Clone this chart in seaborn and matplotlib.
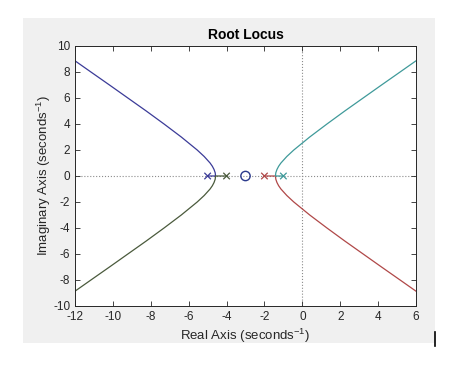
import pandas as pd
import seaborn as sns
import matplotlib.pyplot as plt
from matplotlib.patches import Rectangle
from matplotlib.lines import Line2D

# poles / zero
poles = [-5, -4, -2, -1]
zeros = [-3]

# branch points (real, imag)
blue_re = [-5.0, -4.58, -4.60, -4.66, -4.75, -4.87, -5.18, -5.55, -6.39, -7.30, -8.24, -9.21, -10.18, -11.16, -12.0]
blue_im = [0.0, 0.0, 0.25, 0.5, 0.75, 1.0, 1.5, 2.0, 3.0, 4.0, 5.0, 6.0, 7.0, 8.0, 8.86]
green_re = [-4.0, -4.58, -4.60, -4.66, -4.75, -4.87, -5.18, -5.55, -6.39, -7.30, -8.24, -9.21, -10.18, -11.16, -12.0]
green_im = [0.0, 0.0, -0.25, -0.5, -0.75, -1.0, -1.5, -2.0, -3.0, -4.0, -5.0, -6.0, -7.0, -8.0, -8.86]
red_re = [-2.0, -1.42, -1.40, -1.34, -1.25, -1.13, -0.82, -0.45, 0.39, 1.30, 2.24, 3.21, 4.18, 5.16, 6.0]
red_im = [0.0, 0.0, -0.25, -0.5, -0.75, -1.0, -1.5, -2.0, -3.0, -4.0, -5.0, -6.0, -7.0, -8.0, -8.86]
teal_re = [-1.0, -1.42, -1.40, -1.34, -1.25, -1.13, -0.82, -0.45, 0.39, 1.30, 2.24, 3.21, 4.18, 5.16, 6.0]
teal_im = [0.0, 0.0, 0.25, 0.5, 0.75, 1.0, 1.5, 2.0, 3.0, 4.0, 5.0, 6.0, 7.0, 8.0, 8.86]

branch_names = ['b1', 'b2', 'b3', 'b4']
branch_colors = ['#3b3b98', '#4a5a3c', '#b04848', '#3f9a9a']

frames = []
for name, re, im in zip(branch_names,
                        [blue_re, green_re, red_re, teal_re],
                        [blue_im, green_im, red_im, teal_im]):
    frames.append(pd.DataFrame({'re': re, 'im': im, 'branch': name}))
df = pd.concat(frames, ignore_index=True)
pole_df = pd.DataFrame({'re': poles, 'im': [0] * len(poles), 'branch': branch_names})

plt.rcParams.update({
    'font.family': ['Liberation Sans', 'DejaVu Sans'],
    'mathtext.default': 'regular',
    'axes.unicode_minus': False,
    'axes.edgecolor': '#262626', 'axes.linewidth': 0.7,
    'xtick.color': '#262626', 'ytick.color': '#262626',
    'xtick.direction': 'in', 'ytick.direction': 'in',
    'xtick.top': True, 'ytick.right': True,
    'xtick.major.size': 3.5, 'ytick.major.size': 3.5,
    'xtick.major.width': 0.6, 'ytick.major.width': 0.6,
    'xtick.labelsize': 8.5, 'ytick.labelsize': 8.5,
})

fig = plt.figure(figsize=(4.7, 3.73), dpi=100, facecolor='white')
fig.patches.append(Rectangle((23 / 470, 30 / 373), 412 / 470, 325 / 373,
                             transform=fig.transFigure, facecolor='#f0f0f0',
                             edgecolor='none', zorder=-10))
fig.lines.append(Line2D([435 / 470, 435 / 470], [27 / 373, 41 / 373],
                        transform=fig.transFigure, color='black', lw=1.2))

ax = fig.add_axes([75 / 470, 67 / 373, 341 / 470, 260 / 373])
ax.set_facecolor('white')

ax.axhline(0, color='#8c8c8c', ls=':', lw=0.8, zorder=1)
ax.axvline(0, color='#8c8c8c', ls=':', lw=0.8, zorder=1)

sns.lineplot(data=df, x='re', y='im', hue='branch', estimator=None,
             sort=False, palette=branch_colors, legend=False, lw=0.9, ax=ax, zorder=2)
sns.scatterplot(data=pole_df, x='re', y='im', hue='branch', palette=branch_colors,
                marker='x', s=22, linewidth=0.9, legend=False, ax=ax, zorder=3)
ax.scatter(zeros, [0] * len(zeros), marker='o', s=45, facecolors='none',
           edgecolors='#2b3a8c', linewidths=1.0, zorder=3)

ax.set_xlim(-12, 6)
ax.set_ylim(-10, 10)
ax.set_xticks(range(-12, 7, 2))
ax.set_yticks(range(-10, 11, 2))
ax.set_xlabel('Real Axis (seconds$^{-1}$)', fontsize=9.5, color='#262626', labelpad=3)
ax.set_ylabel('Imaginary Axis (seconds$^{-1}$)', fontsize=9.5, color='#262626', labelpad=0)
ax.set_title('Root Locus', fontsize=10, fontweight='bold', pad=5)

fig.savefig('out.png', dpi=100, facecolor='white')
